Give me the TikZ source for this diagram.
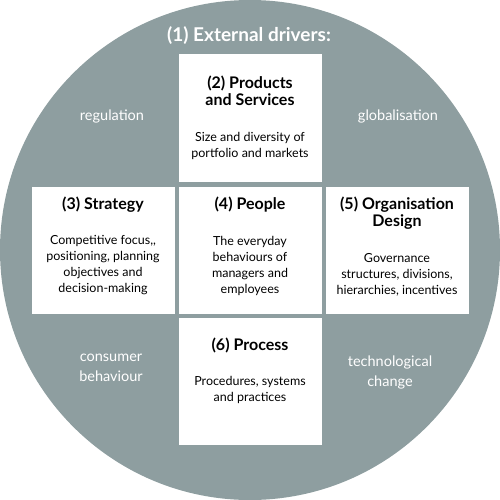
\documentclass[tikz,border=0pt]{standalone}
\usepackage{fontspec}
\setmainfont{Lato}
\definecolor{drv}{HTML}{8E9EA0}
\begin{document}
\begin{tikzpicture}[x=1pt,y=-1pt,
  box/.style={fill=white,draw=none,minimum width=143pt,minimum height=127pt,inner sep=0pt},
  head/.style={align=center,inner sep=0pt,font=\bfseries\fontsize{16}{17}\selectfont},
  desc/.style={align=center,inner sep=0pt,font=\fontsize{12.5}{16}\selectfont},
  drvlab/.style={align=center,inner sep=0pt,text=white,font=\fontsize{14.5}{20}\selectfont},
  title/.style={inner sep=0pt,text=white,font=\bfseries\fontsize{19}{20}\selectfont}]
\useasboundingbox (0,0) rectangle (500,500);
\fill[drv] (250,250) circle (250);
\node[box] (prod) at (250.5,118) {};
\node[box] (strat) at (103,250) {};
\node[box] (people) at (250.5,250) {};
\node[box] (org) at (397,250) {};
\node[box] (proc) at (250.5,381.5) {};
\node[title] (ext) at (249,36) {(1) External drivers:};
\node[head] (prodh) at (250,91) {(2) Products\\and Services};
\node[desc] (prodd) at (250,146) {Size and diversity of\\portfolio and markets};
\node[head] (strath) at (103,205) {(3) Strategy};
\node[desc] (stratd) at (103,265.5) {Competitive focus{,}{,}\\positioning, planning\\objectives and\\decision-making};
\node[head] (peopleh) at (250,205) {(4) People};
\node[desc] (peopled) at (250,265.5) {The everyday\\behaviours of\\managers and\\employees};
\node[head] (orgh) at (397,213) {(5) Organisation\\Design};
\node[desc] (orgd) at (397,275) {Governance\\structures, divisions,\\hierarchies, incentives};
\node[head] (proch) at (250,345) {(6) Process};
\node[desc] (procd) at (250,390) {Procedures, systems\\and practices};
\node[drvlab] (reg) at (112,116) {regulation};
\node[drvlab] (glob) at (398,116) {globalisation};
\node[drvlab] (cons) at (111,368) {consumer\\behaviour};
\node[drvlab] (tech) at (390,372) {technological\\change};
\end{tikzpicture}
\end{document}
